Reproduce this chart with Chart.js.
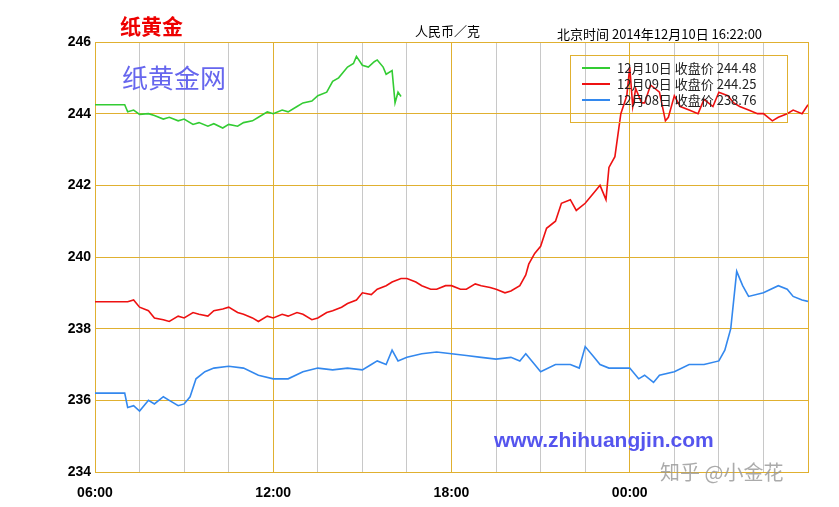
<!DOCTYPE html><html><head><meta charset="utf-8"><script src="https://cdn.jsdelivr.net/npm/chart.js@4"></script>
<style>html,body{margin:0;background:#fff}#w{width:839px;height:507px}</style></head><body><div id="w"><canvas id="c"></canvas></div>
<script>
// hours after 06:00
const greenX=[0,0.5,1.0,1.1,1.3,1.5,1.8,2,2.3,2.5,2.8,3,3.3,3.5,3.8,4,4.3,4.5,4.8,5,5.3,5.5,5.8,6,6.3,6.5,6.8,7,7.3,7.5,7.8,8,8.2,8.5,8.7,8.8,9,9.2,9.4,9.5,9.7,9.8,10,10.1,10.2,10.3];
const greenY=[244.25,244.25,244.25,244.05,244.1,243.98,244.0,243.95,243.85,243.9,243.8,243.85,243.7,243.75,243.65,243.72,243.6,243.7,243.65,243.75,243.8,243.9,244.05,244.0,244.1,244.05,244.2,244.3,244.35,244.5,244.6,244.9,245.0,245.3,245.4,245.6,245.35,245.3,245.45,245.5,245.3,245.1,245.2,244.3,244.6,244.48];
const redX=[0,0.5,1.1,1.3,1.5,1.8,2,2.3,2.5,2.8,3,3.3,3.5,3.8,4,4.3,4.5,4.8,5,5.3,5.5,5.8,6,6.3,6.5,6.8,7,7.3,7.5,7.8,8,8.3,8.5,8.8,9,9.3,9.5,9.8,10,10.3,10.5,10.8,11,11.3,11.5,11.8,12,12.3,12.5,12.8,13,13.3,13.5,13.8,14,14.3,14.5,14.6,14.8,15,15.2,15.5,15.7,16,16.2,16.5,16.8,17,17.2,17.3,17.5,17.7,17.9,18,18.1,18.2,18.4,18.5,18.7,19,19.2,19.3,19.5,19.7,20,20.3,20.5,20.8,21,21.3,21.5,21.7,22,22.3,22.5,22.8,23,23.3,23.5,23.8,24];
const redY=[238.75,238.75,238.75,238.8,238.6,238.5,238.3,238.25,238.2,238.35,238.3,238.45,238.4,238.35,238.5,238.55,238.6,238.45,238.4,238.3,238.2,238.35,238.3,238.4,238.35,238.45,238.4,238.25,238.3,238.45,238.5,238.6,238.7,238.8,239.0,238.95,239.1,239.2,239.3,239.4,239.4,239.3,239.2,239.1,239.1,239.2,239.2,239.1,239.1,239.25,239.2,239.15,239.1,239.0,239.05,239.2,239.5,239.8,240.1,240.3,240.8,241.0,241.5,241.6,241.3,241.5,241.8,242.0,241.6,242.5,242.8,244.0,244.5,245.3,244.2,244.7,244.3,244.3,244.8,244.6,243.8,243.9,244.5,244.2,244.1,244.0,244.4,244.2,244.6,244.5,244.3,244.2,244.1,244.0,244.0,243.8,243.9,244.0,244.1,244.0,244.25];
const blueX=[0,0.5,1.0,1.1,1.3,1.5,1.8,2,2.3,2.5,2.8,3,3.2,3.4,3.7,4,4.5,5,5.5,6,6.5,7,7.5,8,8.5,9,9.3,9.5,9.8,10,10.2,10.5,11,11.5,12,12.5,13,13.5,14,14.3,14.5,14.8,15,15.5,16,16.3,16.5,16.8,17,17.3,17.5,18,18.3,18.5,18.8,19,19.5,20,20.5,21,21.2,21.4,21.6,21.8,22,22.5,23,23.3,23.5,23.8,24];
const blueY=[236.2,236.2,236.2,235.8,235.85,235.7,236.0,235.9,236.1,236.0,235.85,235.9,236.1,236.6,236.8,236.9,236.95,236.9,236.7,236.6,236.6,236.8,236.9,236.85,236.9,236.85,237.0,237.1,237.0,237.4,237.1,237.2,237.3,237.35,237.3,237.25,237.2,237.15,237.2,237.1,237.3,237.0,236.8,237.0,237.0,236.9,237.5,237.2,237.0,236.9,236.9,236.9,236.6,236.7,236.5,236.7,236.8,237.0,237.0,237.1,237.4,238.0,239.6,239.2,238.9,239.0,239.2,239.1,238.9,238.8,238.76];
const yTicks=[234,236,238,240,242,244,246];
const xLabels={0:'06:00',6:'12:00',12:'18:00',18:'00:00'};
const legendText=['12月10日 收盘价 244.48','12月09日 收盘价 244.25','12月08日 收盘价 238.76'];
const colors=['#33cc33','#ee1111','#3388ee'];
const pts=(xs,ys)=>xs.map((x,i)=>({x,y:ys[i]}));
const gold='#e0b030';
const deco={id:'deco',afterDraw(ch){const c=ch.ctx;c.save();
c.textBaseline='alphabetic';
c.fillStyle='#ee0000';c.font='bold 21px "Noto Sans CJK SC"';c.fillText('纸黄金',120,34);
c.fillStyle='#6666ee';c.font='26px "Noto Sans CJK SC"';c.fillText('纸黄金网',122,88);
c.fillStyle='#000';c.font='13px "Noto Sans CJK SC"';c.fillText('人民币／克',415,36);
c.fillText('北京时间 2014年12月10日 16:22:00',557,39);
c.fillStyle='#5555ee';c.font='bold 21px "Liberation Sans"';c.fillText('www.zhihuangjin.com',494,447);
c.fillStyle='rgba(150,150,150,0.8)';c.font='20px "Noto Sans CJK SC"';c.fillText('知乎 @小金花',660,480);
c.strokeStyle=gold;c.lineWidth=1;c.strokeRect(570.5,55.5,217,67);
c.font='13px "Noto Sans CJK SC"';
for(let i=0;i<3;i++){const y=68+i*16;c.strokeStyle=colors[i];c.lineWidth=2;c.beginPath();c.moveTo(582,y);c.lineTo(610,y);c.stroke();c.fillStyle='#222';c.fillText(legendText[i],617,y+5);}
c.fillStyle='#000';c.font='bold 14px "Liberation Sans"';c.textAlign='center';
for(const k in xLabels){c.fillText(xLabels[k],ch.scales.x.getPixelForValue(+k),497);}
c.restore();}};
new Chart(document.getElementById('c'),{type:'line',data:{datasets:[
{data:pts(blueX,blueY),borderColor:colors[2]},
{data:pts(redX,redY),borderColor:colors[1]},
{data:pts(greenX,greenY),borderColor:colors[0]}]},
options:{animation:false,responsive:true,maintainAspectRatio:false,
layout:{padding:{top:42,right:31,bottom:35,left:0}},
elements:{point:{radius:0},line:{borderWidth:1.6,tension:0}},
plugins:{legend:{display:false},tooltip:{enabled:false}},
scales:{x:{type:'linear',min:0,max:24,afterFit(s){s.height=0;},
ticks:{stepSize:1.5,display:false},border:{color:gold},
grid:{drawTicks:false,color:c=>(c.tick&&c.tick.value%6===0)?gold:'#c8c8c8'}},
y:{min:234,max:246,afterFit(s){s.width=95;},border:{color:gold},
ticks:{stepSize:2,color:'#000',font:{family:'Liberation Sans',size:14,weight:'bold'},padding:4},
grid:{drawTicks:false,color:gold}}}},plugins:[deco]});
</script></body></html>
